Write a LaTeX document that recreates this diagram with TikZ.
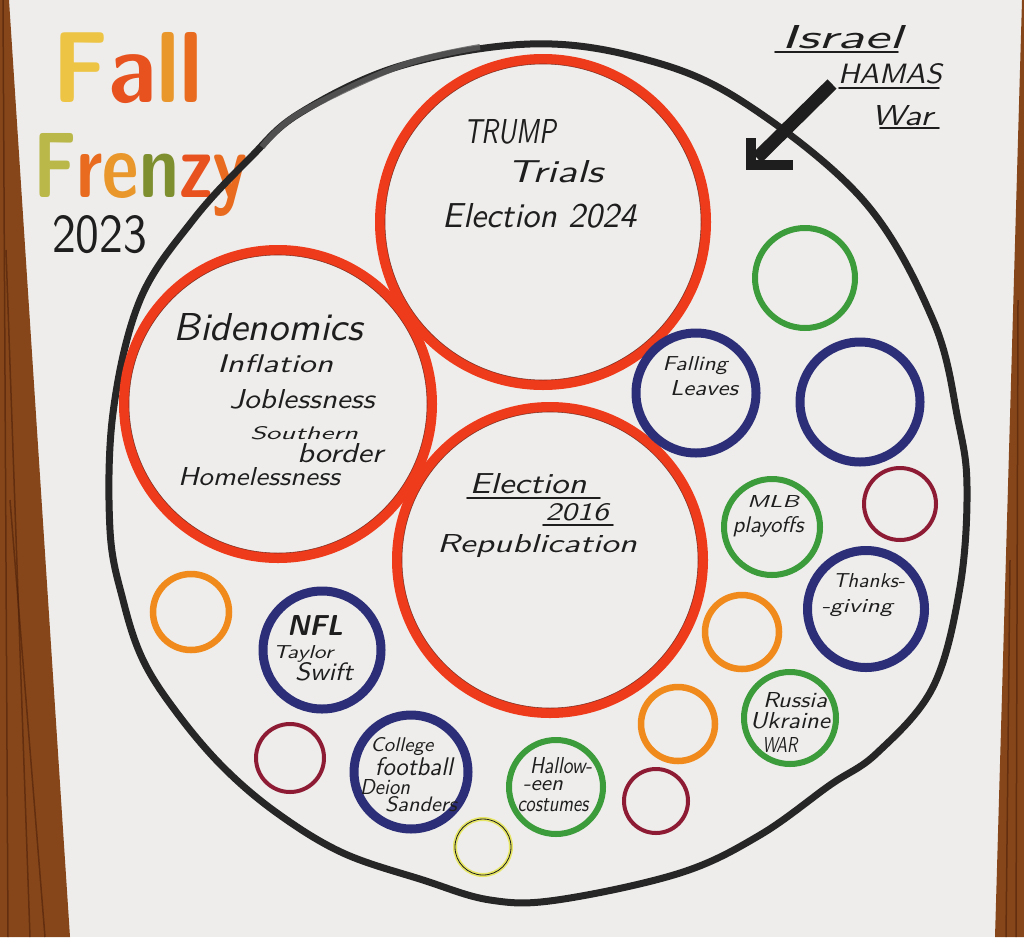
\documentclass[tikz,border=0pt]{standalone}
\usepackage{graphicx}
\definecolor{paper}{HTML}{EEEDEB}
\definecolor{wood}{HTML}{86461A}
\definecolor{wooddark}{HTML}{4A1E08}
\definecolor{ink}{HTML}{1E1E1E}
\definecolor{ringblack}{HTML}{262626}
\definecolor{ringgrey}{HTML}{5A5A5A}
\definecolor{redpaint}{HTML}{EE3B1B}
\definecolor{pencil}{HTML}{5A1A10}
\definecolor{navypaint}{HTML}{2C2F78}
\definecolor{greenpaint}{HTML}{3C9B3A}
\definecolor{maroonpaint}{HTML}{8E1B34}
\definecolor{orangepaint}{HTML}{F08A1C}
\definecolor{yellowpaint}{HTML}{E6E664}
\definecolor{tA}{HTML}{EDC443}
\definecolor{tB}{HTML}{E8521F}
\definecolor{tC}{HTML}{E9962A}
\definecolor{tD}{HTML}{E86B1F}
\definecolor{tE}{HTML}{B9B848}
\definecolor{tF}{HTML}{7E8F30}
\newcommand\hwh[3]{\resizebox{#1pt}{#2pt}{#3}}
\begin{document}
\begin{tikzpicture}[x=1pt,y=-1pt,
  ring/.style={circle, draw=#1, inner sep=0pt, fill=none},
  bigring/.style={ring=redpaint, line width=10pt},
  navyring/.style={ring=navypaint, line width=9pt},
  greenring/.style={ring=greenpaint, line width=6pt},
  maroonring/.style={ring=maroonpaint, line width=4pt},
  orangering/.style={ring=orangepaint, line width=6.5pt},
  yellowring/.style={ring=yellowpaint, line width=4pt},
  lbl/.style={inner sep=0pt, text=ink, font=\sffamily\slshape, anchor=base},
  title/.style={inner sep=0pt, font=\sffamily\bfseries, anchor=base west},
  uline/.style={ink, line width=1.6pt, line cap=round},
  grain/.style={wooddark, line width=1.5pt, opacity=0.6},
  pencilline/.style={pencil, line width=0.6pt, opacity=0.7}]
\fill[paper] (0,0) rectangle (1024,937);
\useasboundingbox (0,0) rectangle (1024,937);
% wooden frame
\fill[wood] (0,0) -- (9,0) -- (70,937) -- (0,937) -- cycle;
\fill[wood] (1022,0) -- (1024,0) -- (1024,937) -- (995,937) -- cycle;
\draw[grain] (3,0) -- (8,937);
\draw[grain] (6,250) -- (30,937);
\draw[grain] (10,500) -- (45,937);
\draw[grain] (1010,560) -- (1006,937);
\draw[grain] (1018,300) -- (1016,937);

% title
\node[title] (fall) at (52,102) {\hwh{151}{70}{\textcolor{tA}{F}\textcolor{tB}{a}\textcolor{tC}{l}\textcolor{tD}{l}}};
\node[title] (frenzy) at (33,197) {\hwh{215}{64}{\textcolor{tE}{F}\textcolor{tD}{r}\textcolor{tC}{e}\textcolor{tF}{n}\textcolor{tB}{z}\textcolor{tD}{y}}};
\node[title, text=ink, font=\sffamily] (year) at (52,252) {\hwh{95}{37}{2023}};

% outer hand-drawn circle
\draw[ringblack, line width=7pt] plot[smooth cycle, tension=0.6] coordinates {
 (530,44) (640,58) (740,100) (863,200) (933,320) (958,420) (967,487) (960,587)
 (933,687) (877,753) (830,785) (760,835) (680,873) (557,900) (490,900) (423,880)
 (343,853) (277,813) (223,767) (177,713) (143,660) (123,600) (110,530) (113,413)
 (140,300) (193,220) (250,158) (300,113) (400,66)};
\draw[ringgrey, line width=6pt, opacity=0.8] plot[smooth, tension=0.6] coordinates {
 (262,147) (300,113) (400,66) (480,47)};

% big red circles
\node[bigring, minimum size=326pt] (trump) at (543,222) {};
\node[bigring, minimum size=308pt] (bideno) at (278,404) {};
\node[bigring, minimum size=306pt] (elect) at (550,560) {};
\draw[pencilline] (trump.center) circle[radius=158];
\draw[pencilline] (bideno.center) circle[radius=149];
\draw[pencilline] (elect.center) circle[radius=148];

% small circles
\node[greenring, minimum size=100pt] (greenA) at (805,278) {};
\node[navyring, minimum size=120pt] (falling) at (696,393) {};
\node[navyring, minimum size=120pt] (navyB) at (860,402) {};
\node[maroonring, minimum size=72pt] (maroonA) at (900,504) {};
\node[greenring, minimum size=96pt] (mlb) at (772,527) {};
\node[navyring, minimum size=117pt] (thanks) at (866,609) {};
\node[orangering, minimum size=74pt] (orangeA) at (742,632) {};
\node[greenring, minimum size=92pt] (russia) at (790,718) {};
\node[orangering, minimum size=74pt] (orangeB) at (678,724) {};
\node[maroonring, minimum size=64pt] (maroonB) at (656,801) {};
\node[greenring, minimum size=94pt] (hallow) at (556,787) {};
\node[yellowring, minimum size=56pt] (yellowA) at (483,847) {};
\draw[ink, line width=0.8pt] (yellowA.center) circle[radius=28];
\node[navyring, minimum size=114pt] (college) at (411,772) {};
\node[maroonring, minimum size=68pt] (maroonC) at (290,758) {};
\node[navyring, minimum size=118pt] (nfl) at (322,650) {};
\node[orangering, minimum size=76pt] (orangeC) at (191,612) {};

% Trump circle text
\node[lbl] (tTrump) at (510,143) {\hwh{92}{24}{TRUMP}};
\node[lbl] (tTrials) at (555,182) {\hwh{96}{22}{Trials}};
\node[lbl] (tE24) at (540,227) {\hwh{194}{24}{Election 2024}};

% Bidenomics text
\node[lbl] (tBid) at (268,340) {\hwh{189}{27}{Bidenomics}};
\node[lbl] (tInf) at (275,372) {\hwh{116}{18}{Inflation}};
\node[lbl] (tJob) at (302,408) {\hwh{145}{19}{Joblessness}};
\node[lbl] (tSouth) at (304,439) {\hwh{108}{13}{Southern}};
\node[lbl] (tBorder) at (340,462) {\hwh{86}{19}{border}};
\node[lbl] (tHome) at (259,485) {\hwh{162}{18}{Homelessness}};

% Election 2016 text
\node[lbl] (tE16) at (528,493) {\hwh{117}{20}{Election}};
\draw[uline] (467,498) -- (600,498);
\node[lbl] (t2016) at (577,520) {\hwh{63}{17}{2016}};
\draw[uline] (543,525) -- (613,525);
\node[lbl] (tRep) at (537,552) {\hwh{200}{18}{Republication}};

% small circle texts
\node[lbl] (tFall) at (695,370) {\hwh{65}{14}{Falling}};
\node[lbl] (tLeaves) at (704,395) {\hwh{68}{15}{Leaves}};
\node[lbl] (tMLB) at (773,507) {\hwh{52}{12}{MLB}};
\node[lbl] (tPlay) at (768,532) {\hwh{71}{16}{playoffs}};
\node[lbl] (tThanks) at (869,587) {\hwh{72}{14}{Thanks-}};
\node[lbl] (tGiving) at (857,612) {\hwh{71}{13}{-giving}};
\node[lbl] (tRussia) at (795,707) {\hwh{64}{15}{Russia}};
\node[lbl] (tUkr) at (790,728) {\hwh{80}{16}{Ukraine}};
\node[lbl] (tWar) at (780,752) {\hwh{35}{15}{WAR}};
\node[lbl, font=\sffamily\bfseries\slshape] (tNFL) at (315,635) {\hwh{56}{20}{NFL}};
\node[lbl] (tTaylor) at (303,658) {\hwh{60}{13}{Taylor}};
\node[lbl] (tSwift) at (324,680) {\hwh{58}{18}{Swift}};
\node[lbl] (tCollege) at (402,751) {\hwh{63}{14}{College}};
\node[lbl] (tFoot) at (414,775) {\hwh{78}{18}{football}};
\node[lbl] (tDeion) at (385,794) {\hwh{50}{15}{Deion}};
\node[lbl] (tSanders) at (421,811) {\hwh{72}{15}{Sanders}};
\node[lbl] (tHallow) at (561,773) {\hwh{62}{16}{Hallow-}};
\node[lbl] (tEen) at (543,790) {\hwh{40}{10}{-een}};
\node[lbl] (tCost) at (553,811) {\hwh{71}{13}{costumes}};

% Israel Hamas War
\node[lbl] (tIsrael) at (842,48) {\hwh{121}{23}{Israel}};
\draw[uline] (775,52) -- (898,52);
\node[lbl] (tHamas) at (890,83) {\hwh{104}{20}{HAMAS}};
\draw[uline] (839,88) -- (939,88);
\node[lbl] (tWarB) at (902,125) {\hwh{61}{20}{War}};
\draw[uline] (880,128) -- (939,128);

% arrow
\coordinate (arrowtail) at (832,84);
\coordinate (arrowtip) at (757,158);
\coordinate (barbtop) at (751,138);
\coordinate (barbcorner) at (751,165);
\coordinate (barbright) at (793,165);
\draw[ink, line width=13pt] (arrowtail) -- (arrowtip);
\draw[ink, line width=10pt, line join=miter] (barbtop) -- (barbcorner) -- (barbright);
\end{tikzpicture}
\end{document}
